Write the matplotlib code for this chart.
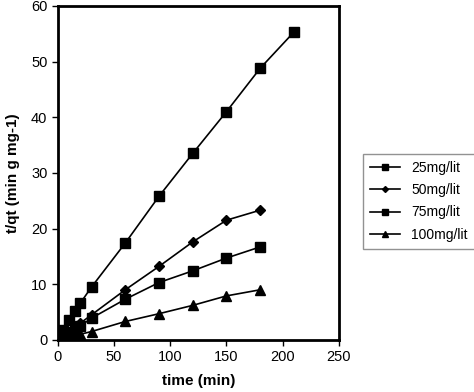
import numpy as np
import matplotlib
matplotlib.use("Agg")
import matplotlib.pyplot as plt

plt.rcParams['font.family'] = ['Liberation Sans', 'DejaVu Sans']

# ---- data ----
t_25 = [2, 5, 10, 15, 20, 30, 60, 90, 120, 150, 180, 210]
y_25 = [0.8, 1.8, 3.5, 5.2, 6.6, 9.5, 17.4, 25.8, 33.5, 41.0, 48.8, 55.3]

t_other = [2, 5, 10, 15, 20, 30, 60, 90, 120, 150, 180]
y_50 = [0.3, 0.8, 1.5, 2.3, 3.0, 4.5, 9.0, 13.2, 17.6, 21.5, 23.3]
y_75 = [0.3, 0.7, 1.3, 1.9, 2.5, 3.9, 7.3, 10.3, 12.4, 14.7, 16.7]
y_100 = [0.1, 0.3, 0.5, 0.8, 1.0, 1.5, 3.3, 4.7, 6.2, 7.9, 9.0]

labels = ["25mg/lit", "50mg/lit", "75mg/lit", "100mg/lit"]

fig = plt.figure(figsize=(4.74, 3.92), dpi=100)
ax = fig.add_axes([0.122, 0.133, 0.593, 0.852])

ax.plot(t_25, y_25, '-s', color='black', lw=1.2, ms=7, label=labels[0])
ax.plot(t_other, y_50, '-D', color='black', lw=1.2, ms=5, label=labels[1])
ax.plot(t_other, y_75, '-s', color='black', lw=1.2, ms=7, label=labels[2])
ax.plot(t_other, y_100, '-^', color='black', lw=1.2, ms=7, label=labels[3])

ax.set_xlim(0, 250)
ax.set_ylim(0, 60)
ax.set_xticks(np.arange(0, 251, 50))
ax.set_yticks(np.arange(0, 61, 10))
ax.tick_params(labelsize=10.5, direction='out', length=4, width=1)
for s in ax.spines.values():
    s.set_linewidth(2)

ax.set_xlabel("time (min)", fontsize=11, fontweight='bold', labelpad=7)
ax.set_ylabel("t/qt (min g mg-1)", fontsize=11, fontweight='bold', labelpad=8)

leg = ax.legend(loc='center left', bbox_to_anchor=(1.06, 0.415), fontsize=10,
                frameon=True, fancybox=False, edgecolor='#777777',
                markerscale=0.6, handlelength=2.2, labelspacing=0.6,
                borderpad=0.5)
leg.get_frame().set_linewidth(1)

fig.savefig("out.png", dpi=100)
